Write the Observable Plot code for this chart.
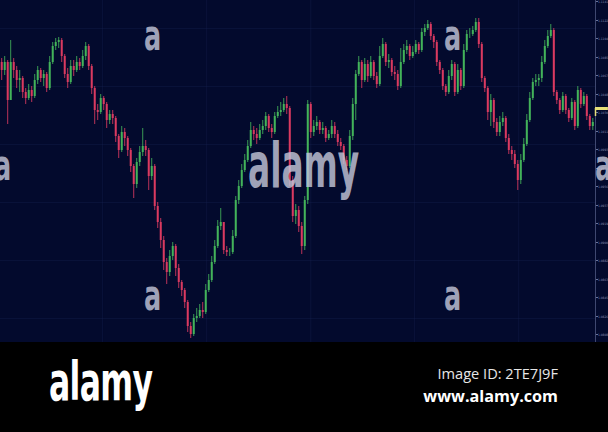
<!DOCTYPE html>
<html>
<head>
<meta charset="utf-8">
<script src="https://cdn.jsdelivr.net/npm/d3@7"></script>
<script src="https://cdn.jsdelivr.net/npm/@observablehq/plot@0.6"></script>
<style>
  html, body { margin: 0; padding: 0; background: #000; }
  #wrap { position: relative; width: 608px; height: 432px; overflow: hidden; background: #000; }
  #chart svg { display: block; }
  .wm { position: absolute; font-family: "DejaVu Sans Condensed", "Liberation Sans Narrow", sans-serif; font-weight: bold;
        color: rgba(196,198,216,0.82); transform-origin: 0 0; pointer-events: none; white-space: nowrap; line-height: 1; }
  #band { position: absolute; left: 0; top: 342px; width: 608px; height: 90px; background: #000; }
  #logo { position: absolute; left: 49px; top: 13px; font-family: "DejaVu Sans Condensed", sans-serif;
          font-weight: bold; font-size: 53px; color: #fff; transform: scaleX(0.66); transform-origin: 0 0; line-height: 1; letter-spacing: -1px; }
  #imgid { position: absolute; right: 50px; top: 21px; font-family: "Open Sans", sans-serif; font-size: 14.6px; color: #e6e6e6; }
  #url { position: absolute; right: 50px; top: 43px; font-family: "Open Sans", sans-serif; font-weight: bold; font-size: 16.2px; color: #fff; }
</style>
</head>
<body>
<div id="wrap">
  <div id="chart"></div>
  <div class="wm" style="left:144px;top:14px;font-size:43px;transform:scaleX(0.66)">a</div>
  <div class="wm" style="left:444px;top:14px;font-size:43px;transform:scaleX(0.66)">a</div>
  <div class="wm" style="left:-6px;top:144px;font-size:43px;transform:scaleX(0.66)">a</div>
  <div class="wm" style="left:595px;top:144px;font-size:43px;transform:scaleX(0.66)">a</div>
  <div class="wm" style="left:144px;top:274px;font-size:43px;transform:scaleX(0.66)">a</div>
  <div class="wm" style="left:444px;top:274px;font-size:43px;transform:scaleX(0.66)">a</div>
  <div class="wm" style="left:248px;top:134px;font-size:63px;transform:scaleX(0.58)">alamy</div>
  <div id="band">
    <div id="logo">alamy</div>
    <div id="imgid">Image ID: 2TE7J9F</div>
    <div id="url">www.alamy.com</div>
  </div>
</div>
<script>
// Prices in pips above 1.0000 (e.g. 1072 -> 1.1072)
const firstOpen = 1080;
const closes = [1072,1080,1042,1080,1072,1062,1064,1050,1044,1052,1046,1062,1072,1064,1068,1054,1080,1096,1100,1102,
1086,1068,1060,1076,1072,1080,1076,1086,1096,1076,1054,1032,1030,1044,1038,1022,1028,1024,1006,992,
1010,1004,992,976,958,980,990,996,992,966,976,936,920,902,880,870,886,896,874,860,
852,840,816,808,824,826,832,830,852,862,880,896,916,920,892,890,890,906,942,956,
972,982,996,1012,1008,1004,1012,1016,1026,1014,1010,1026,1030,1032,1038,1034,962,926,932,916,
896,942,1038,1010,1016,1020,1012,1014,1004,1008,1016,1008,1000,996,982,976,1006,1038,1068,1080,
1062,1078,1066,1080,1066,1058,1086,1098,1080,1082,1070,1068,1056,1080,1092,1096,1086,1090,1098,1092,
1110,1114,1118,1106,1100,1080,1072,1056,1050,1066,1078,1050,1072,1056,1092,1108,1108,1112,1120,1098,
1064,1054,1030,1042,1020,1010,1020,1024,1004,992,988,978,962,982,998,1022,1044,1060,1062,1064,
1080,1096,1106,1112,1050,1042,1032,1046,1032,1024,1040,1016,1052,1038,1046,1026,1016,1020];
const highs = [1084,1086,1082,1102,1084,1076,1072,1066,1054,1058,1056,1068,1076,1074,1072,1070,1086,1100,1104,1105,
1104,1088,1074,1082,1082,1086,1084,1092,1100,1098,1078,1056,1038,1048,1046,1040,1032,1032,1026,1008,
1016,1014,1006,994,978,984,996,1014,1002,994,984,978,940,924,906,884,892,900,898,878,
862,854,842,820,828,834,838,840,858,868,886,902,922,934,920,896,894,912,946,962,
978,988,1002,1020,1016,1014,1018,1022,1030,1028,1018,1030,1036,1040,1044,1046,1036,966,938,936,
920,946,1042,1040,1022,1026,1022,1020,1016,1012,1022,1020,1012,1004,998,986,1012,1044,1072,1086,
1082,1084,1082,1086,1082,1070,1096,1104,1100,1088,1084,1076,1072,1094,1098,1102,1098,1096,1102,1100,
1114,1118,1122,1120,1108,1102,1082,1074,1058,1072,1082,1080,1078,1074,1098,1112,1114,1116,1124,1124,
1100,1066,1056,1048,1044,1024,1026,1030,1026,1008,996,992,982,988,1004,1028,1050,1064,1068,1068,
1086,1102,1112,1118,1114,1052,1044,1050,1048,1034,1044,1042,1056,1054,1050,1048,1028,1024];
const lows = [1062,1067,1018,1042,1064,1054,1050,1044,1038,1042,1040,1044,1058,1060,1056,1050,1052,1078,1092,1094,
1080,1064,1054,1058,1066,1070,1072,1074,1082,1072,1048,1018,1022,1028,1032,1014,1018,1018,1000,984,
990,996,986,970,944,954,976,986,986,952,962,932,914,894,872,858,866,882,866,854,
846,834,810,804,806,820,824,824,828,850,860,878,894,912,888,886,886,888,904,938,
954,970,980,994,1002,998,1002,1008,1012,1010,1004,1008,1024,1026,1030,1028,956,920,918,910,
888,892,938,1004,1006,1012,1008,1008,1000,1002,1004,1004,996,992,978,972,974,1002,1022,1066,
1054,1060,1060,1064,1062,1054,1056,1084,1076,1074,1066,1062,1052,1054,1078,1088,1082,1084,1088,1088,
1090,1106,1112,1102,1094,1076,1068,1052,1046,1048,1062,1046,1048,1052,1054,1090,1104,1106,1110,1094,
1060,1050,1022,1016,1014,1006,1006,1016,1000,988,982,974,952,958,980,996,1020,1042,1056,1056,
1060,1078,1094,1104,1046,1038,1028,1030,1028,1020,1022,1012,1014,1034,1036,1022,1012,1012];
const currentPrice = 1034;
const tickValues = [1141,1122,1104,1085,1067,1048,1030,1011,993,974,956,937,919,900,882,863,845,826,808];
const gridIdx = [33.6,68.3,103,137.6,172.3];
const gridPips = [1114,1056,998,940,882,824];

const up = "#43b35a", down = "#da3a60";
const candles = closes.map((c, i) => {
  const o = i ? closes[i - 1] : firstOpen;
  return { i, open: o, close: c, high: Math.max(highs[i], o, c), low: Math.min(lows[i], o, c), up: c >= o };
});
const n = closes.length;
const xDom = [-0.4, n - 0.1];

const plot = Plot.plot({
  width: 608, height: 342,
  marginLeft: 0, marginRight: 13, marginTop: 0, marginBottom: 0,
  style: { background: "#030a2d", overflow: "visible" },
  x: { domain: xDom, axis: null },
  y: { domain: [800, 1142], axis: null },
  marks: [
    Plot.ruleX(gridIdx, { stroke: "#16214f", strokeOpacity: 0.35, strokeWidth: 1 }),
    Plot.ruleY(gridPips, { stroke: "#16214f", strokeOpacity: 0.35, strokeWidth: 1 }),
    Plot.ruleX(candles, { x: "i", y1: "low", y2: "high", stroke: d => d.up ? up : down, strokeWidth: 1, strokeOpacity: 0.85 }),
    Plot.ruleX(candles, { x: "i", y1: "open", y2: "close", stroke: d => d.up ? up : down, strokeWidth: 2 }),
    Plot.ruleX([xDom[1]], { stroke: "#3f4870", strokeWidth: 1 }),
    Plot.axisY({ anchor: "right", ticks: tickValues, tickSize: 2, tickPadding: 0.5, fontSize: 3.2, fontFamily: "DejaVu Sans Condensed",
                 stroke: "#6b7398", fill: "#8a92b4", tickFormat: d => (1 + d / 10000).toFixed(4) }),
    Plot.ruleY([currentPrice], { x1: xDom[1], x2: xDom[1] + 4.3, stroke: "#e6df78", strokeWidth: 3 }),
    Plot.ruleX([xDom[1]], { y1: currentPrice, y2: currentPrice - 8, stroke: "#e6df78", strokeWidth: 1.5 })
  ]
});
document.getElementById("chart").appendChild(plot);
</script>
</body>
</html>
